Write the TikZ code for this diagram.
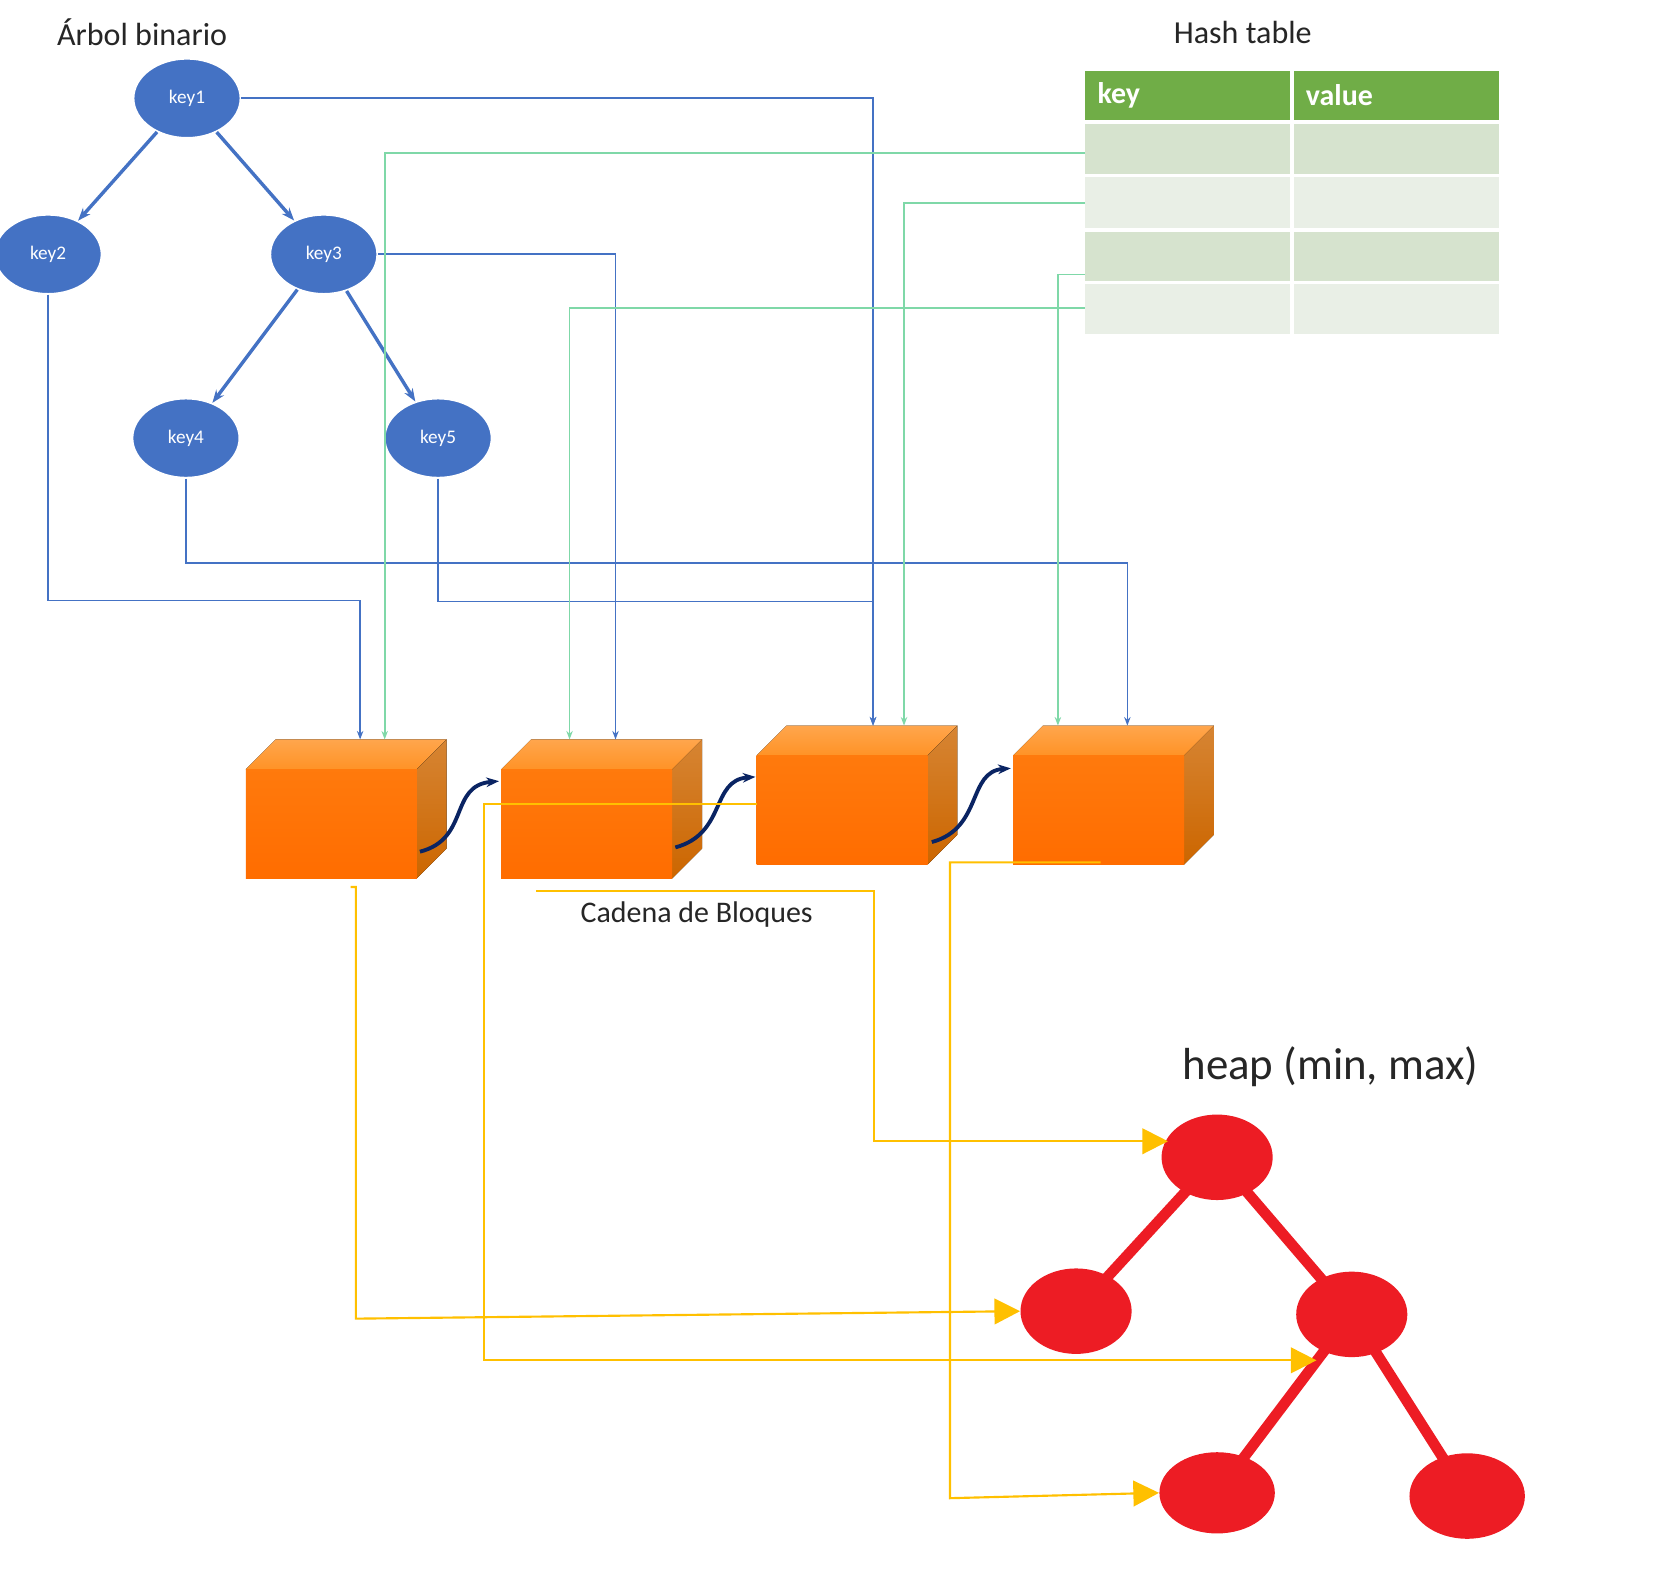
\documentclass[tikz,border=0pt]{standalone}
\usepackage{fontspec}
\setmainfont{Carlito}
\usetikzlibrary{shapes.geometric,arrows.meta}
\definecolor{tblue}{HTML}{4472C4}
\definecolor{lblue}{HTML}{8FAADC}
\definecolor{lgreen}{HTML}{7FD8A8}
\definecolor{hgreen}{HTML}{70AD47}
\definecolor{rowa}{HTML}{D6E3CE}
\definecolor{rowb}{HTML}{E9EFE6}
\definecolor{hred}{HTML}{ED1C24}
\definecolor{yel}{HTML}{FFC000}
\definecolor{navy}{HTML}{0A2463}
\begin{document}
\begin{tikzpicture}[x=0.5pt,y=-0.5pt,
 bnode/.style={ellipse,fill=tblue,draw=white,line width=0.8pt,minimum width=50pt,minimum height=37pt,inner sep=0pt,text=white,font=\fontsize{9}{10}\selectfont},
 rnode/.style={ellipse,fill=hred,minimum width=52pt,minimum height=40pt,inner sep=0pt},
 tedge/.style={tblue,line width=1.6pt,-{Stealth[length=6pt]}},
 redge/.style={hred,line width=5pt},
 bcon/.style={lblue,line width=0.8pt,-{Stealth[length=4pt,width=3pt]},tblue},
 gcon/.style={lgreen,line width=0.8pt,-{Stealth[length=4pt,width=3pt]}},
 ycon/.style={yel,line width=1pt},
 yarr/.style={yel,line width=1pt,-{Triangle[length=12pt,width=12pt]}},
 title/.style={font=\fontsize{15}{18}\selectfont,text=black!85}]
\useasboundingbox (0,0) rectangle (1560,1485);
\fill[white] (0,0) rectangle (1560,1485);
% titles
\node[title] (t1) at (133,30) {Árbol binario};
\node[title] (t2) at (1163,30) {Hash table};
\node[font=\fontsize{14}{16}\selectfont,text=black!85] (t3) at (652,856) {Cadena de Bloques};
\node[font=\fontsize{21}{24}\selectfont,text=black!85] (t4) at (1245,998) {heap (min, max)};
% table
\fill[hgreen] (1015,66) rectangle (1403,112);
\fill[rowa] (1015,116) rectangle (1403,163);
\fill[rowb] (1015,166) rectangle (1403,213);
\fill[rowa] (1015,217) rectangle (1403,263);
\fill[rowb] (1015,266) rectangle (1403,313);
\draw[white,line width=1.5pt] (1209,66) -- (1209,313);
\node[anchor=west,text=white,font=\bfseries\fontsize{14}{16}\selectfont] (hk) at (1020,89) {key};
\node[anchor=west,text=white,font=\bfseries\fontsize{14}{16}\selectfont] (hv) at (1215,89) {value};
\coordinate (r1) at (1015,143);
\coordinate (r2) at (1015,190);
\coordinate (r3) at (1015,257);
\coordinate (r4) at (1015,288);
% cubes
\foreach \n/\x/\y in {1/230/720,2/469/720,3/708/707,4/948/707}{
 \fill[top color=orange!70!white,bottom color=orange!85!white] ({\x},{\y}) -- ({\x+28},{\y-28}) -- ({\x+188},{\y-28}) -- ({\x+160},{\y}) -- cycle;
 \fill[top color=orange!80!black!80!white,bottom color=orange!80!black] ({\x+160},{\y}) -- ({\x+188},{\y-28}) -- ({\x+188},{\y+74}) -- ({\x+160},{\y+102}) -- cycle;
 \shade[top color=orange!90!red!95!white,bottom color=orange!85!red] ({\x},{\y}) rectangle ({\x+160},{\y+102});
 \coordinate (c\n) at ({\x},{\y});
}
% chain arrows
\draw[navy,line width=1.8pt,-{Stealth[length=6pt]}] (393,797) .. controls (440,785) and (420,735) .. (467,731);
\draw[navy,line width=1.8pt,-{Stealth[length=6pt]}] (632,793) .. controls (680,780) and (665,730) .. (707,727);
\draw[navy,line width=1.8pt,-{Stealth[length=6pt]}] (872,788) .. controls (920,775) and (905,722) .. (946,719);
% binary tree
\node[bnode] (k1) at (175,92) {key1};
\node[bnode] (k2) at (45,238) {key2};
\node[bnode] (k3) at (303,238) {key3};
\node[bnode] (k4) at (174,410) {key4};
\node[bnode] (k5) at (410,410) {key5};
\draw[tedge] (k1) -- (k2);
\draw[tedge] (k1) -- (k3);
\draw[tedge] (k3) -- (k4);
\draw[tedge] (k3) -- (k5);
% blue connectors
\draw[bcon] (k1.east) -- (817,92) -- (817,679);
\draw[bcon] (k3.east) -- (576,238) -- (576,692);
\draw[bcon] (k2.south) -- (45,562) -- (337,562) -- (337,692);
\draw[bcon] (k4.south) -- (174,527) -- (1055,527) -- (1055,679);
\draw[bcon] (k5.south) -- (410,563) -- (817,563) -- (817,679);
% green connectors
\draw[gcon] (r1) -- (360,143) -- (360,692);
\draw[gcon] (r2) -- (846,190) -- (846,679);
\draw[gcon] (r3) -- (990,257) -- (990,679);
\draw[gcon] (r4) -- (533,288) -- (533,692);
% heap
\draw[redge] (1139,1083) -- (1007,1227);
\draw[redge] (1139,1083) -- (1265,1230);
\draw[redge] (1265,1230) -- (1139,1397);
\draw[redge] (1265,1230) -- (1373,1400);
\node[rnode] (h1) at (1139,1083) {};
\node[rnode] (h2) at (1007,1227) {};
\node[rnode] (h3) at (1265,1230) {};
\node[rnode,minimum width=54pt,minimum height=38pt] (h4) at (1139,1397) {};
\node[rnode,minimum width=54pt,minimum height=40pt] (h5) at (1373,1400) {};
% yellow connectors
\draw[yarr] (328,830) -- (333,830) -- (333,1234) -- (h2.west);
\draw[yarr] (708,752) -- (453,752) -- (453,1273) -- (1232,1273);
\draw[yarr] (502,834) -- (818,834) -- (818,1068) -- (1093,1068);
\draw[yarr] (1030,807) -- (889,807) -- (889,1402) -- (h4.west);
\end{tikzpicture}
\end{document}
